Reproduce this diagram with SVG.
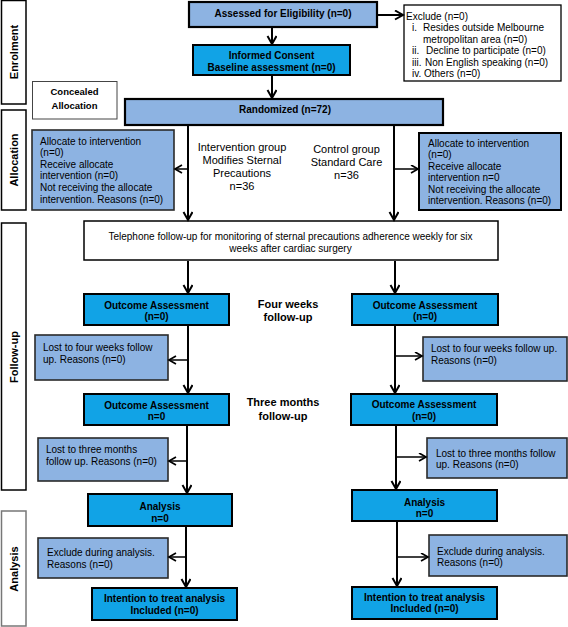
<svg xmlns="http://www.w3.org/2000/svg" width="568" height="627" viewBox="0 0 568 627">
<defs>
<style>
.lb{fill:#8DB3E2;stroke:#2a2a2a;stroke-width:1.6}
.bb{fill:#11A3E6;stroke:#000;stroke-width:2}
.wb{fill:#fff;stroke:#000;stroke-width:1.5}
.side{fill:#fff;stroke:#000;stroke-width:1.5}
text{font-family:"Liberation Sans",Arial,sans-serif;font-size:10px;fill:#000}
.b{font-weight:bold}
.c{text-anchor:middle}
.g{font-size:11px}
.sl{font-size:11px;font-weight:bold;text-anchor:middle}
.ln{stroke:#000;stroke-width:2;fill:none}
.ls{stroke:#000;stroke-width:1.5;fill:none}
</style>
<marker id="ah" markerUnits="userSpaceOnUse" markerWidth="12" markerHeight="12" refX="9" refY="5" orient="auto">
<path d="M1,0.5 L9,5 L1,9.5" fill="none" stroke="#000" stroke-width="2"/>
</marker>
<marker id="as" markerUnits="userSpaceOnUse" markerWidth="12" markerHeight="12" refX="8" refY="4.5" orient="auto">
<path d="M1,0.5 L8,4.5 L1,8.5" fill="none" stroke="#000" stroke-width="1.7"/>
</marker>
</defs>
<rect width="568" height="627" fill="#fff"/>

<g id="side-enrolment"><rect class="side" x="1.5" y="0.5" width="24.5" height="103.5"/><text class="sl" transform="translate(18,52) rotate(-90)">Enrolment</text></g>
<g id="side-allocation"><rect class="side" x="1.5" y="110" width="24.5" height="100"/><text class="sl" transform="translate(18,160) rotate(-90)">Allocation</text></g>
<g id="side-followup"><rect class="side" x="1.5" y="223" width="24.5" height="267"/><text class="sl" transform="translate(18,357) rotate(-90)">Follow-up</text></g>
<g id="side-analysis"><rect class="side" x="1.5" y="511" width="24.5" height="115" style="stroke:#777"/><text class="sl" transform="translate(18,569) rotate(-90)">Analysis</text></g>

<g id="concealed"><rect x="32.5" y="81.5" width="84.5" height="37.5" fill="#fff" stroke="#444" stroke-width="1"/><text class="b c" style="font-size:9.5px" x="74.5" y="95">Concealed</text><text class="b c" style="font-size:9.5px" x="74.5" y="109">Allocation</text></g>

<g id="assessed"><rect class="lb" x="189" y="2" width="188" height="25" style="stroke:#000;stroke-width:2.2"/><text class="b c" x="283" y="17">Assessed for Eligibility (n=0)</text></g>

<g id="exclude"><rect class="wb" x="404" y="5" width="157" height="76" style="stroke-width:1.3"/>
<text x="406" y="19.5">Exclude (n=0)</text>
<text><tspan x="412" y="31">i. </tspan><tspan x="423" y="31">Resides outside Melbourne</tspan></text>
<text x="423" y="42.5">metropolitan area (n=0)</text>
<text><tspan x="412" y="54">ii. </tspan><tspan x="426" y="54">Decline to participate (n=0)</tspan></text>
<text><tspan x="412" y="65.5">iii. </tspan><tspan x="425" y="65.5">Non English speaking (n=0)</tspan></text>
<text><tspan x="412" y="77">iv. </tspan><tspan x="424" y="77">Others (n=0)</tspan></text>
</g>

<g id="consent"><rect class="bb" x="193" y="45" width="157" height="30"/><text class="b c" x="271.5" y="59">Informed Consent</text><text class="b c" x="271.5" y="71">Baseline assessment (n=0)</text></g>

<g id="randomized"><rect class="lb" x="125" y="99" width="318" height="26" style="stroke:#000;stroke-width:2.2"/><text class="b c" x="285" y="113">Randomized (n=72)</text></g>

<g id="alloc-left"><rect class="lb" x="32" y="130" width="142" height="80"/>
<text x="40" y="144.5">Allocate to intervention</text>
<text x="40" y="156">(n=0)</text>
<text x="40" y="167.7">Receive allocate</text>
<text x="40" y="179.3">intervention (n=0)</text>
<text x="40" y="191">Not receiving the allocate</text>
<text x="40" y="202.5">intervention. Reasons (n=0)</text>
</g>

<g id="group-intervention"><text class="c g" x="242" y="151">Intervention group</text><text class="c g" x="242" y="164">Modifies Sternal</text><text class="c g" x="242" y="177">Precautions</text><text class="c g" x="242" y="190">n=36</text></g>
<g id="group-control"><text class="c g" x="346.5" y="153">Control group</text><text class="c g" x="346.5" y="166">Standard Care</text><text class="c g" x="346.5" y="179">n=36</text></g>

<g id="alloc-right"><rect class="lb" x="419" y="133" width="142" height="77" style="stroke:#000;stroke-width:2"/>
<text x="428" y="146.5">Allocate to intervention</text>
<text x="428" y="158">(n=0)</text>
<text x="428" y="169.5">Receive allocate</text>
<text x="428" y="181">intervention n=0</text>
<text x="428" y="192.5">Not receiving the allocate</text>
<text x="428" y="204">intervention. Reasons (n=0)</text>
</g>

<g id="telephone"><rect class="wb" x="84" y="221" width="414" height="39"/><text class="c" x="290.5" y="239.5">Telephone follow-up for monitoring of sternal precautions adherence weekly for six</text><text class="c" x="290.5" y="251.5">weeks after cardiac surgery</text></g>

<g id="outcome-l1"><rect class="bb" x="84" y="294" width="145" height="31"/><text class="b c" x="156.5" y="308.5">Outcome Assessment</text><text class="b c" x="156.5" y="320">(n=0)</text></g>
<g id="outcome-r1"><rect class="bb" x="352" y="294" width="146" height="31"/><text class="b c" x="425" y="308.5">Outcome Assessment</text><text class="b c" x="425" y="320">(n=0)</text></g>
<g id="label-four"><text class="b c g" x="288" y="308">Four weeks</text><text class="b c g" x="288" y="321">follow-up</text></g>

<g id="lost4-l"><rect class="lb" x="35" y="335" width="133" height="45"/><text x="43" y="350.5">Lost to four weeks follow</text><text x="43" y="362.5">up. Reasons (n=0)</text></g>
<g id="lost4-r"><rect class="lb" x="423" y="337" width="144" height="44"/><text x="431" y="351.5">Lost to four weeks follow up.</text><text x="431" y="363.5">Reasons (n=0)</text></g>

<g id="outcome-l2"><rect class="bb" x="84" y="394" width="145" height="31"/><text class="b c" x="156.5" y="408.5">Outcome Assessment</text><text class="b c" x="156.5" y="420">n=0</text></g>
<g id="outcome-r2"><rect class="bb" x="351" y="394" width="146" height="31"/><text class="b c" x="424" y="408">Outcome Assessment</text><text class="b c" x="424" y="420">(n=0)</text></g>
<g id="label-three"><text class="b c g" x="283" y="406">Three months</text><text class="b c g" x="283" y="420">follow-up</text></g>

<g id="lost3-l"><rect class="lb" x="38" y="438" width="130" height="43"/><text x="46" y="452.5">Lost to three months</text><text x="46" y="464.5">follow up. Reasons (n=0)</text></g>
<g id="lost3-r"><rect class="lb" x="427" y="438" width="140" height="40"/><text x="436" y="456.5">Lost to three months follow</text><text x="436" y="468">up. Reasons (n=0)</text></g>

<g id="analysis-l"><rect class="bb" x="88" y="494" width="144" height="32"/><text class="b c" x="160" y="509.5">Analysis</text><text class="b c" x="160" y="521.5">n=0</text></g>
<g id="analysis-r"><rect class="bb" x="352" y="490" width="145" height="31"/><text class="b c" x="424.5" y="505.5">Analysis</text><text class="b c" x="424.5" y="517">n=0</text></g>

<g id="excl-l"><rect class="lb" x="38" y="538" width="130" height="40"/><text x="47" y="555.5">Exclude during analysis.</text><text x="47" y="567.5">Reasons (n=0)</text></g>
<g id="excl-r"><rect class="lb" x="429" y="535" width="138" height="41"/><text x="437" y="554.5">Exclude during analysis.</text><text x="437" y="566">Reasons (n=0)</text></g>

<g id="itt-l"><rect class="bb" x="92" y="588" width="145" height="32"/><text class="b c" x="164.5" y="601.5">Intention to treat analysis</text><text class="b c" x="164.5" y="613.5">Included (n=0)</text></g>
<g id="itt-r"><rect class="bb" x="352" y="587" width="145" height="32"/><text class="b c" x="424.5" y="600.5">Intention to treat analysis</text><text class="b c" x="424.5" y="612">Included (n=0)</text></g>

<g id="connectors">
<line class="ln" x1="272" y1="28" x2="272" y2="44" marker-end="url(#ah)"/>
<line class="ln" x1="272" y1="76" x2="272" y2="98" marker-end="url(#ah)"/>
<line class="ln" x1="378" y1="15" x2="403" y2="15" marker-end="url(#ah)"/>
<line class="ln" x1="188" y1="126" x2="188" y2="220" marker-end="url(#ah)"/>
<line class="ls" x1="188" y1="169" x2="175" y2="169" marker-end="url(#as)"/>
<line class="ln" x1="394" y1="126" x2="394" y2="220" marker-end="url(#ah)"/>
<line class="ls" x1="394" y1="169" x2="418" y2="169" marker-end="url(#as)"/>
<line class="ln" x1="188" y1="261" x2="188" y2="293" marker-end="url(#ah)"/>
<line class="ln" x1="395" y1="261" x2="395" y2="293" marker-end="url(#ah)"/>
<line class="ln" x1="188" y1="326" x2="188" y2="393" marker-end="url(#ah)"/>
<line class="ls" x1="188" y1="360" x2="169" y2="360" marker-end="url(#as)"/>
<line class="ln" x1="395" y1="326" x2="395" y2="393" marker-end="url(#ah)"/>
<line class="ls" x1="395" y1="356" x2="422" y2="356" marker-end="url(#as)"/>
<line class="ln" x1="187" y1="426" x2="187" y2="493" marker-end="url(#ah)"/>
<line class="ls" x1="187" y1="461" x2="169" y2="461" marker-end="url(#as)"/>
<line class="ln" x1="396" y1="426" x2="396" y2="489" marker-end="url(#ah)"/>
<line class="ls" x1="396" y1="457" x2="426" y2="457" marker-end="url(#as)"/>
<line class="ln" x1="186" y1="527" x2="186" y2="587" marker-end="url(#ah)"/>
<line class="ls" x1="186" y1="557" x2="169" y2="557" marker-end="url(#as)"/>
<line class="ln" x1="397" y1="522" x2="397" y2="586" marker-end="url(#ah)"/>
<line class="ls" x1="397" y1="557" x2="428" y2="557" marker-end="url(#as)"/>
</g>
</svg>
